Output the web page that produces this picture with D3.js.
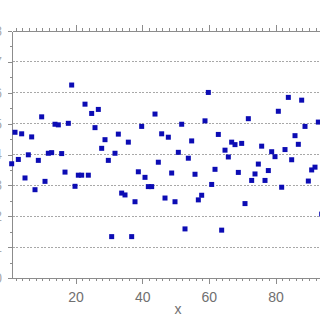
<!DOCTYPE html>
<html>
<head>
<meta charset="utf-8">
<script src="https://cdn.jsdelivr.net/npm/d3@7"></script>
<style>
  body { margin: 0; background: #fff; }
  svg { display: block; overflow: hidden; }
  .axis path, .axis line { stroke: #8c8c8c; shape-rendering: crispEdges; }
  .axis text { fill: #707070; font-family: "Liberation Sans", Arial, sans-serif; font-size: 14px; }
  .grid line { stroke: #a8a8a8; stroke-dasharray: 2,1.5; shape-rendering: crispEdges; }
  .axis-title { fill: #707070; font-family: "Liberation Sans", Arial, sans-serif; font-size: 14px; }
</style>
</head>
<body>
<svg id="chart"></svg>
<script>
// sample index (x) and measured value (y)
const xValues = [
  1, 2, 3, 4, 5, 6, 7, 8, 9, 10, 11, 12, 13, 14, 15, 16, 17, 18, 19, 20,
  21, 22, 23, 24, 25, 26, 27, 28, 29, 30, 31, 32, 33, 34, 35, 36, 37, 38, 39, 40,
  41, 42, 43, 44, 45, 46, 47, 48, 49, 50, 51, 52, 53, 54, 55, 56, 57, 58, 59, 60,
  61, 62, 63, 64, 65, 66, 67, 68, 69, 70, 71, 72, 73, 74, 75, 76, 77, 78, 79, 80,
  81, 82, 83, 84, 85, 86, 87, 88, 89, 90, 91, 92, 93, 94
];
const yValues = [
  3.70, 4.72, 3.84, 4.67, 3.24, 3.99, 4.57, 2.86, 3.81, 5.22,
  3.13, 4.04, 4.06, 4.98, 4.96, 4.03, 3.43, 5.01, 6.25, 2.97,
  3.33, 3.33, 5.63, 3.33, 5.33, 4.87, 5.46, 4.20, 4.48, 3.81,
  1.34, 4.04, 4.66, 2.75, 2.69, 4.40, 1.34, 2.47, 3.44, 4.91,
  3.26, 2.96, 2.96, 5.31, 3.75, 4.67, 2.59, 4.56, 3.40, 2.47,
  4.07, 4.98, 1.59, 3.88, 4.44, 3.36, 2.53, 2.68, 5.09, 6.01,
  3.03, 3.52, 4.65, 1.55, 4.14, 3.92, 4.40, 4.32, 3.42, 4.36,
  2.41, 5.16, 3.16, 3.37, 3.69, 4.27, 3.16, 3.48, 4.09, 3.93,
  5.40, 2.94, 4.16, 5.85, 3.83, 4.61, 4.33, 5.76, 4.91, 3.14,
  3.50, 3.59, 5.05, 2.07
];
const xTickValues = [20, 40, 60, 80];
const xMinorTickValues = [
  2, 4, 6, 8, 10, 12, 14, 16, 18, 22, 24, 26, 28, 30, 32, 34, 36, 38,
  42, 44, 46, 48, 50, 52, 54, 56, 58, 62, 64, 66, 68, 70, 72, 74, 76, 78,
  82, 84, 86, 88, 90, 92, 94, 96, 98
];
const yTickValues = [0, 1, 2, 3, 4, 5, 6, 7, 8];
const yMinorTickValues = [0.5, 1.5, 2.5, 3.5, 4.5, 5.5, 6.5, 7.5];
const xLabel = 'x';

class ScatterPlot {

  constructor(_config) {
    this.config = {
      parentElement: _config.parentElement,
      containerWidth: _config.containerWidth || 320,
      containerHeight: _config.containerHeight || 320,
      // plot runs off the right edge of the picture (cropped figure)
      plotRight: _config.plotRight || 341.67,
      margin: _config.margin || { top: 31, bottom: 42, left: 11.67 }
    };
    this.data = xValues.map((x, i) => ({ x: x, y: yValues[i] }));
    this.initVis();
  }

  initVis() {
    let vis = this;

    vis.left = vis.config.margin.left;
    vis.top = vis.config.margin.top;
    vis.bottomY = vis.config.containerHeight - vis.config.margin.bottom;

    vis.xScale = d3.scaleLinear()
      .domain([1, 100])
      .range([vis.left, vis.config.plotRight]);

    vis.yScale = d3.scaleLinear()
      .domain([0, 8])
      .range([vis.bottomY, vis.top]);

    vis.svg = d3.select(vis.config.parentElement)
      .attr('width', vis.config.containerWidth)
      .attr('height', vis.config.containerHeight);

    vis.renderVis();
  }

  renderVis() {
    let vis = this;
    const x0 = Math.round(vis.left) + 0.5;

    // dashed horizontal grid
    vis.svg.append('g')
      .attr('class', 'grid')
      .selectAll('line')
      .data(yTickValues.slice(1, -1))
      .join('line')
      .attr('x1', x0)
      .attr('x2', vis.config.containerWidth)
      .attr('y1', d => vis.yScale(d))
      .attr('y2', d => vis.yScale(d));

    // bottom axis: major + minor ticks
    vis.svg.append('g')
      .attr('class', 'axis x-axis')
      .attr('transform', `translate(0.5,${vis.yScale(0)})`)
      .call(d3.axisBottom(vis.xScale).tickValues(xTickValues).tickSize(6).tickSizeOuter(0).tickPadding(8).tickFormat(d => d));

    vis.svg.append('g')
      .attr('class', 'axis x-axis-minor')
      .attr('transform', `translate(0.5,${vis.yScale(0)})`)
      .call(d3.axisBottom(vis.xScale).tickValues(xMinorTickValues).tickSize(3).tickSizeOuter(0).tickFormat(''))
      .select('.domain').remove();

    // top axis, ticks only
    vis.svg.append('g')
      .attr('class', 'axis x-axis-top')
      .attr('transform', `translate(0.5,${vis.yScale(8)})`)
      .call(d3.axisTop(vis.xScale).tickValues(xTickValues).tickSize(6).tickSizeOuter(0).tickFormat(''));

    vis.svg.append('g')
      .attr('class', 'axis x-axis-top-minor')
      .attr('transform', `translate(0.5,${vis.yScale(8)})`)
      .call(d3.axisTop(vis.xScale).tickValues(xMinorTickValues).tickSize(3).tickSizeOuter(0).tickFormat(''))
      .select('.domain').remove();

    // left axis, labels mostly cut off by the crop
    vis.svg.append('g')
      .attr('class', 'axis y-axis')
      .attr('transform', `translate(${x0 - 0.5},0)`)
      .call(d3.axisLeft(vis.yScale).tickValues(yTickValues).tickSize(4).tickSizeOuter(0).tickPadding(6).tickFormat(d => d))
      .selectAll('text').attr('fill-opacity', 0.6);

    vis.svg.append('g')
      .attr('class', 'axis y-axis-minor')
      .attr('transform', `translate(${x0 - 0.5},0)`)
      .call(d3.axisLeft(vis.yScale).tickValues(yMinorTickValues).tickSize(2).tickSizeOuter(0).tickFormat(''))
      .select('.domain').remove();

    // points
    vis.svg.append('g')
      .selectAll('.point')
      .data(vis.data)
      .join('rect')
      .attr('class', 'point')
      .attr('x', d => vis.xScale(d.x) - 2.5)
      .attr('y', d => vis.yScale(d.y) - 2.5)
      .attr('width', 5)
      .attr('height', 5)
      .attr('fill', '#0c0cb4');

    // axis title
    vis.svg.append('text')
      .attr('class', 'axis-title')
      .attr('x', 178)
      .attr('y', 314)
      .attr('text-anchor', 'middle')
      .text(xLabel);
  }
}

new ScatterPlot({ parentElement: '#chart' });
</script>
</body>
</html>
